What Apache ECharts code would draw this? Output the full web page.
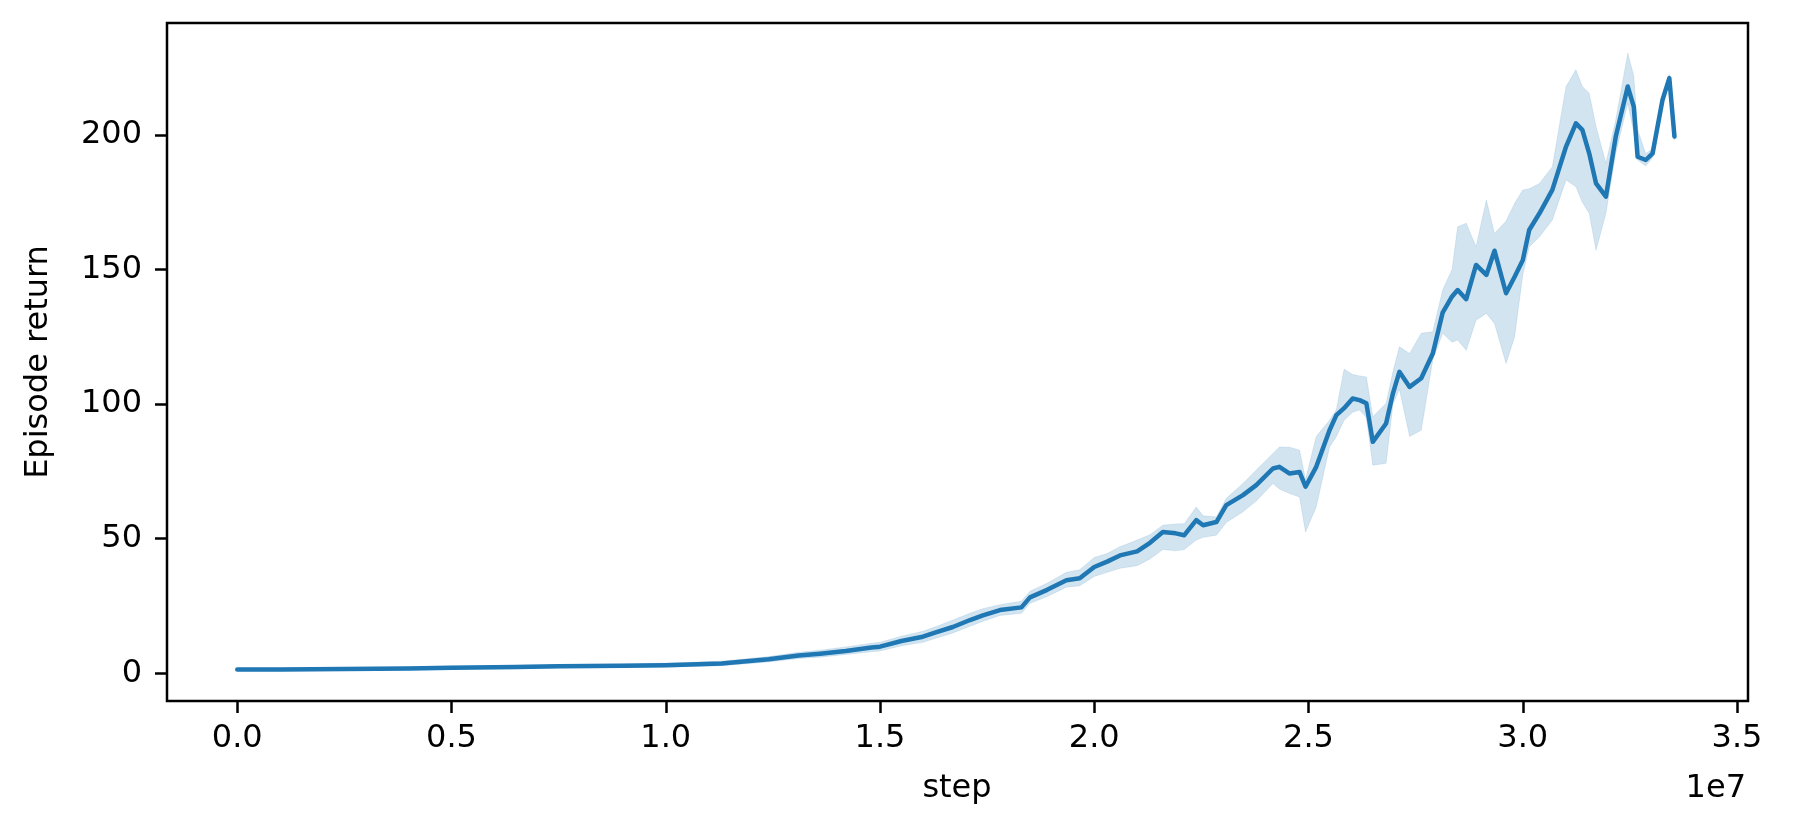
<!DOCTYPE html>
<html>
<head>
<meta charset="utf-8">
<script src="https://cdn.jsdelivr.net/npm/echarts@6/dist/echarts.min.js"></script>
<style>
  html, body { margin: 0; padding: 0; background: #fff; }
  #chart { width: 1795px; height: 826px; }
</style>
</head>
<body>
<div id="chart"></div>
<script>
// step values in units of 1e7
const steps = [0.000,0.100,0.250,0.400,0.500,0.650,0.750,0.900,1.000,1.130,1.240,1.310,1.360,1.420,1.480,1.500,1.550,1.600,1.630,1.670,1.710,1.740,1.780,1.830,1.850,1.890,1.935,1.966,2.000,2.030,2.060,2.100,2.130,2.160,2.190,2.210,2.238,2.254,2.285,2.308,2.347,2.378,2.417,2.432,2.456,2.479,2.493,2.518,2.549,2.565,2.583,2.603,2.619,2.635,2.650,2.681,2.697,2.712,2.736,2.763,2.790,2.813,2.835,2.848,2.868,2.891,2.915,2.934,2.961,2.981,3.000,3.015,3.039,3.069,3.101,3.124,3.139,3.155,3.171,3.194,3.217,3.245,3.259,3.268,3.287,3.303,3.326,3.342,3.354];
const meanReturn = [1.4,1.4,1.6,1.8,2.1,2.3,2.6,2.8,3.0,3.6,5.2,6.6,7.3,8.3,9.6,9.9,12.0,13.6,15.2,17.2,19.8,21.5,23.5,24.5,28.2,31.0,34.6,35.3,39.5,41.5,43.8,45.3,48.5,52.5,52.0,51.3,56.9,55.0,56.2,62.5,66.2,69.9,76.1,76.7,74.2,74.8,69.3,76.7,90.3,95.9,98.5,102.1,101.5,100.3,86.0,92.8,104.0,112.0,106.4,109.6,118.8,134.0,140.0,142.4,139.0,151.7,148.0,157.0,141.2,147.3,153.5,164.7,170.9,179.6,195.7,204.3,201.9,193.2,182.0,177.1,199.4,218.0,210.5,191.9,190.7,193.2,213.0,221.1,199.4];
const lowerBand = [0.9,0.9,1.1,1.3,1.5,1.7,2.0,2.2,2.3,2.8,4.2,5.5,6.0,7.0,8.0,8.3,10.2,11.5,13.0,15.0,17.5,19.3,21.5,22.3,26.0,28.5,32.0,32.5,36.0,37.5,39.0,40.0,42.5,46.0,45.5,46.0,49.5,50.5,51.3,56.0,60.0,64.0,70.5,68.5,66.8,65.5,52.5,61.8,84.1,88.0,94.0,97.0,97.8,95.0,77.3,78.0,100.0,105.6,88.0,90.3,116.4,126.3,123.0,123.8,120.0,131.2,133.7,130.0,115.1,125.0,148.0,158.5,162.2,168.4,183.3,180.8,175.0,170.9,157.2,170.9,193.2,211.8,201.0,190.7,188.5,191.5,211.5,219.5,198.0];
const upperBand = [1.9,1.9,2.1,2.4,2.7,2.9,3.2,3.5,3.8,4.5,6.2,7.8,8.6,9.8,11.2,11.5,13.8,15.6,17.3,19.8,22.3,24.0,25.5,26.8,30.5,33.5,37.5,38.5,43.0,44.5,47.0,49.5,51.5,55.0,55.5,55.6,61.8,58.5,58.1,65.0,70.5,75.5,81.7,84.1,84.0,82.9,72.0,88.0,94.0,98.0,113.0,111.0,110.5,110.1,95.3,100.3,112.0,121.3,118.8,126.3,126.9,142.4,150.0,165.9,167.2,158.5,175.8,163.4,168.0,174.6,179.6,180.0,182.0,188.2,218.0,224.2,218.0,215.5,203.1,189.5,205.6,230.4,222.0,201.9,193.0,195.0,214.5,222.5,201.0];
const xTicks = [0, 0.5, 1.0, 1.5, 2.0, 2.5, 3.0, 3.5];
const yTicks = [0, 50, 100, 150, 200];

const FONT = 'DejaVu Sans';
const BLUE = '#1f77b4';

const bandData = steps.map((s, i) => [s, lowerBand[i], upperBand[i]]);
const meanData = steps.map((s, i) => [s, meanReturn[i]]);

const chart = echarts.init(document.getElementById('chart'), null, { renderer: 'canvas' });
chart.setOption({
  animation: false,
  backgroundColor: '#ffffff',
  grid: {
    left: 167, right: 47, top: 23, bottom: 125,
    show: true, borderColor: '#000', borderWidth: 2.5, backgroundColor: 'transparent'
  },
  xAxis: {
    type: 'value',
    min: -0.164, max: 3.5256,
    axisLine: { show: false, onZero: false },
    splitLine: { show: false },
    axisTick: { show: true, length: 12, lineStyle: { color: '#000', width: 2.5 }, customValues: xTicks },
    axisLabel: {
      customValues: xTicks, margin: 22,
      fontFamily: FONT, fontSize: 32, color: '#000',
      formatter: v => v.toFixed(1)
    }
  },
  yAxis: {
    type: 'value',
    min: -10.29, max: 241.6,
    axisLine: { show: false, onZero: false },
    splitLine: { show: false },
    axisTick: { show: true, length: 12, lineStyle: { color: '#000', width: 2.5 }, customValues: yTicks },
    axisLabel: {
      customValues: yTicks, margin: 25,
      fontFamily: FONT, fontSize: 32, color: '#000',
      formatter: v => String(v)
    }
  },
  graphic: [
    { type: 'text', x: 957, y: 789, style: { text: 'step', font: '32px "DejaVu Sans"', fill: '#000', align: 'center', verticalAlign: 'middle' } },
    { type: 'text', x: 1746, y: 789, style: { text: '1e7', font: '32px "DejaVu Sans"', fill: '#000', align: 'right', verticalAlign: 'middle' } },
    { type: 'text', x: 39, y: 362, rotation: Math.PI / 2, style: { text: 'Episode return', font: '32px "DejaVu Sans"', fill: '#000', align: 'center', verticalAlign: 'middle' } }
  ],
  series: [
    {
      type: 'custom', name: 'band', data: bandData, silent: true, z: 1,
      encode: { x: 0, y: [1, 2] },
      renderItem: function (params, api) {
        if (params.dataIndex !== 0) return null;
        const upper = bandData.map(d => api.coord([d[0], d[2]]));
        const lower = bandData.map(d => api.coord([d[0], d[1]])).reverse();
        return {
          type: 'polygon',
          shape: { points: upper.concat(lower) },
          style: { fill: 'rgba(31,119,180,0.2)', stroke: 'rgba(31,119,180,0.12)', lineWidth: 1 }
        };
      }
    },
    {
      type: 'line', name: 'mean', data: meanData,
      showSymbol: false, silent: true,
      lineStyle: { color: BLUE, width: 4.5, join: 'round', cap: 'round' }, z: 3
    }
  ]
});
</script>
</body>
</html>
